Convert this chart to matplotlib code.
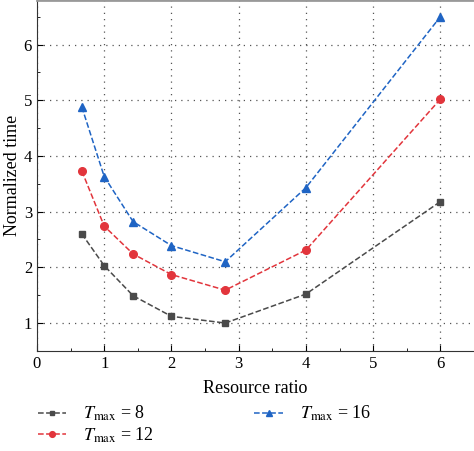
import matplotlib
matplotlib.use("Agg")
import matplotlib.pyplot as plt
from matplotlib.ticker import MultipleLocator

# =====================================================
# DATA
# =====================================================

ratio = [0.667, 1.0, 1.43, 2.0, 2.8, 4.0, 6.0]

t_max_8 = [2.60, 2.03, 1.49, 1.12, 1.00, 1.52, 3.18]
t_max_12 = [3.73, 2.74, 2.24, 1.87, 1.59, 2.31, 5.02]
t_max_16 = [4.88, 3.63, 2.82, 2.39, 2.10, 3.43, 6.50]

labels = [r"$T_{\mathrm{max}}$ = 8", r"$T_{\mathrm{max}}$ = 12", r"$T_{\mathrm{max}}$ = 16"]

# =====================================================
# STYLE
# =====================================================

plt.rcParams["font.family"] = "Liberation Serif"
plt.rcParams["mathtext.fontset"] = "stix"
plt.rcParams["font.size"] = 12

fig = plt.figure(figsize=(4.74, 4.51), dpi=100)
ax = fig.add_axes([0.078, 0.222, 0.922, 0.778])

ax.plot(ratio, t_max_8, "--", color="#4a4a4a", marker="s", markersize=4.8,
        linewidth=1.1, label=labels[0])
ax.plot(ratio, t_max_12, "--", color="#e2353c", marker="o", markersize=5.5,
        linewidth=1.1, label=labels[1])
ax.plot(ratio, t_max_16, "--", color="#1f64c4", marker="^", markersize=5.8,
        linewidth=1.1, label=labels[2])

ax.set_xlim(0, 6.5)
ax.set_ylim(0.5, 6.8)

ax.xaxis.set_major_locator(MultipleLocator(1))
ax.xaxis.set_minor_locator(MultipleLocator(0.5))
ax.yaxis.set_major_locator(MultipleLocator(1))
ax.yaxis.set_minor_locator(MultipleLocator(0.5))

ax.tick_params(which="both", direction="in", top=False, right=False)
ax.tick_params(which="major", length=4, labelsize=12)
ax.tick_params(which="minor", length=2.5)

ax.grid(True, which="major", linestyle=(0, (1, 4)), color="#555555", linewidth=0.9)

for s in ax.spines.values():
    s.set_color("#333333")
ax.spines["top"].set_color("#999999")
ax.spines["top"].set_linewidth(2)
ax.spines["right"].set_visible(False)

ax.set_xlabel("Resource ratio", fontsize=13, labelpad=6)
ax.set_ylabel("Normalized time", fontsize=13, labelpad=2)

fig.legend(loc="lower left", bbox_to_anchor=(0.045, -0.022), ncol=2,
           frameon=False, fontsize=13, columnspacing=5.6, handlelength=1.6,
           handletextpad=0.9, labelspacing=0.1, markerscale=0.75)

plt.savefig("out.png", dpi=100)
